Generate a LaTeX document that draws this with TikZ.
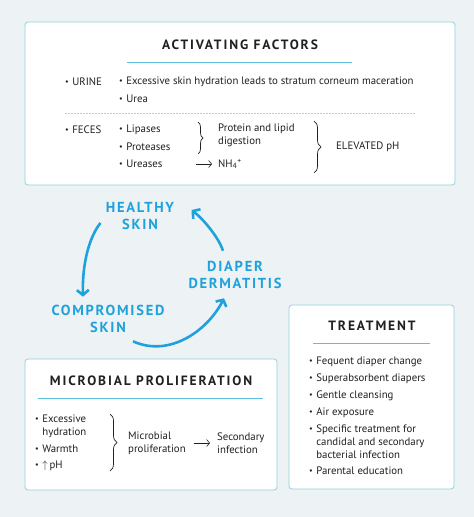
\documentclass[tikz,border=0pt]{standalone}
\usepackage{fontspec}
\setmainfont{PT Sans}
\usetikzlibrary{arrows.meta,decorations.pathreplacing}

\definecolor{bgcol}{HTML}{EDF2F5}
\definecolor{edgecol}{HTML}{93CFDD}
\definecolor{skyblue}{HTML}{1FA2DB}
\definecolor{rulecol}{HTML}{5EBFDC}
\definecolor{inkcol}{HTML}{231F20}

\newcommand{\bul}{\raisebox{0.15ex}{\scalebox{0.75}{\textbullet}}\hspace{3.5pt}}

\tikzset{
	panel/.style={fill=white, draw=edgecol, line width=0.8pt, rounded corners=3pt},
	heading/.style={font=\bfseries\fontsize{13.5}{15}\selectfont\addfontfeatures{LetterSpace=14}, text=inkcol},
	hrule/.style={rulecol, line width=0.9pt},
	body/.style={font=\fontsize{10.8}{13}\selectfont, text=inkcol, inner sep=0pt, anchor=west, align=left},
	stage/.style={font=\bfseries\fontsize{14.5}{17}\selectfont\addfontfeatures{LetterSpace=12}, text=skyblue, align=center},
	cyc/.style={skyblue, line width=2.6pt, -{Straight Barb[length=5pt,width=12pt]}},
	thinarrow/.style={inkcol, line width=0.6pt, -{Straight Barb[length=3pt,width=7pt]}},
	brc/.style={inkcol, line width=0.7pt, decorate, decoration={brace, amplitude=#1}},
}

\begin{document}
\begin{tikzpicture}[x=1pt, y=-1pt]
	\fill[bgcol] (0,0) rectangle (474,517);
	\useasboundingbox (0,0) rectangle (474,517);

	% activating factors
	\filldraw[panel] (25,22) rectangle (455,185);
	\node[heading] (actf) at (240,45) {ACTIVATING FACTORS};
	\draw[hrule] (127,62) -- (352,62);

	\node[body] (urine) at (65,82) {\bul URINE};
	\node[body] (hydr) at (119,82) {\bul Excessive skin hydration leads to stratum corneum maceration};
	\node[body] (urea) at (119,99) {\bul Urea};
	\draw[gray!45, line width=0.6pt, dash pattern=on 1.5pt off 1.5pt] (65,113) -- (415,113);

	\node[body] (feces) at (65,130) {\bul FECES};
	\node[body] (lip) at (119,130) {\bul Lipases};
	\node[body] (pro) at (119,147) {\bul Proteases};
	\node[body] (ure) at (119,164) {\bul Ureases};
	\draw[brc=5pt] (198,122) -- (198,154);
	\node[body] (dig) at (218,135) {Protein and lipid\\digestion};
	\node[body] (nh) at (218,164) {NH\textsubscript{4}\textsuperscript{+}};
	\coordinate (ua) at (196,164);
	\draw[thinarrow] (ua) -- ([xshift=-6pt]nh.west);
	\draw[brc=7pt] (314,121) -- (314,173);
	\node[body] (elev) at (336,147) {ELEVATED pH};

	% cycle
	\node[stage] (healthy) at (140,216) {HEALTHY\\SKIN};
	\node[stage] (diaper) at (235,275) {DIAPER\\DERMATITIS};
	\node[stage] (comp) at (108,319) {COMPROMISED\\SKIN};
	\draw[cyc] ([shift={(-2,7)}]healthy.west) .. controls (90,236) and (82,262) .. ([shift={(-25,-5)}]comp.north);
	\draw[cyc] ([shift={(25,5)}]comp.south) .. controls (170,358) and (208,330) .. ([shift={(-11,6)}]diaper.south);
	\draw[cyc] ([shift={(-12,-7)}]diaper.north) .. controls (218,236) and (202,218) .. ([shift={(14,-6)}]healthy.east);

	% microbial proliferation
	\filldraw[panel] (25,359) rectangle (277,490);
	\node[heading] (micro) at (151,381) {MICROBIAL PROLIFERATION};
	\draw[hrule] (38,398) -- (263,398);
	\node[body] (exc) at (35,426) {\bul Excessive\\\phantom{\bul}hydration};
	\node[body] (warm) at (35,449) {\bul Warmth};
	\node[body] (ph) at (35,466) {\bul $\uparrow$\,pH};
	\draw[brc=7pt] (110,414) -- (110,471);
	\node[body] (mp) at (128,443) {Microbial\\proliferation};
	\node[body] (sec) at (217,443) {Secondary\\infection};
	\draw[thinarrow] ([xshift=8pt]mp.east) -- ([xshift=-7pt]sec.west);

	% treatment
	\filldraw[panel] (289,305) rectangle (454,489);
	\node[heading] (treat) at (372,326) {TREATMENT};
	\draw[hrule] (313,343) -- (430,343);
	\node[body] (t1) at (309,362) {\bul Fequent diaper change};
	\node[body] (t2) at (309,379) {\bul Superabsorbent diapers};
	\node[body] (t3) at (309,396) {\bul Gentle cleansing};
	\node[body] (t4) at (309,413) {\bul Air exposure};
	\node[body] (t5) at (309,442) {\bul Specific treatment for\\\phantom{\bul}candidal and secondary\\\phantom{\bul}bacterial infection};
	\node[body] (t6) at (309,471) {\bul Parental education};
\end{tikzpicture}
\end{document}
